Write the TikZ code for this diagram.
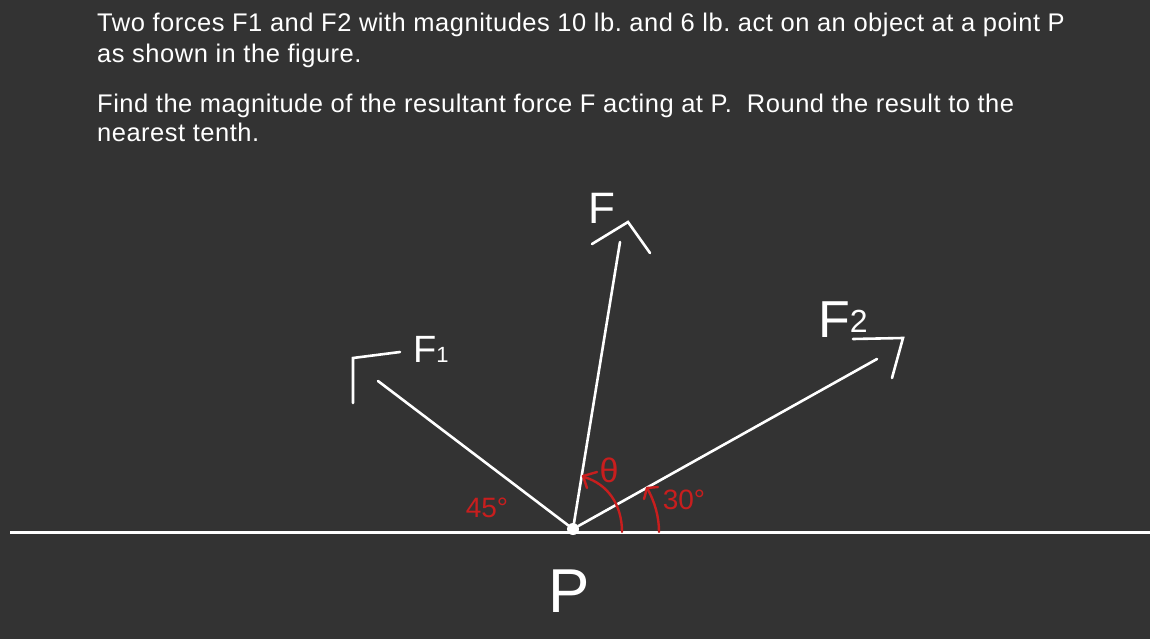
\documentclass[tikz,border=0pt]{standalone}
\usepackage{fontspec}
\setmainfont{Liberation Sans}
\newfontfamily\qfont[LetterSpace=2]{Liberation Sans}
\definecolor{bg}{HTML}{333333}
\definecolor{pen}{HTML}{C81E1E}
\tikzset{
  qtext/.style={anchor=base west, inner sep=0pt, text=white, font=\qfont\fontsize{25.5}{30}\selectfont},
  force/.style={draw=white, line width=2.6pt, line cap=round},
  ground/.style={draw=white, line width=3pt},
  headstroke/.style={draw=white, line width=2.6pt, line cap=round, line join=miter},
  redpen/.style={draw=pen, line width=2.4pt, line cap=round, line join=round},
  redlabel/.style={inner sep=0pt, text=pen},
  hand/.style={inner sep=0pt, text=white},
}
\frenchspacing
\begin{document}
\begin{tikzpicture}[x=1pt,y=-1pt]
\fill[bg] (0,0) rectangle (1150,639);
\useasboundingbox (0,0) rectangle (1150,639);

% question text
\node[qtext] (t1) at (97,32) {Two forces F1 and F2 with magnitudes 10 lb. and 6 lb. act on an object at a point P};
\node[qtext] (t2) at (97,63) {as shown in the figure.};
\node[qtext] (t3) at (97,113) {Find the magnitude of the resultant force F acting at P.\hspace{15pt}Round the result to the};
\node[qtext] (t4) at (97,142) {nearest tenth.};

% ground line
\coordinate (gl) at (10,532);
\coordinate (gr) at (1150,532);
\draw[ground] (gl) -- (gr);

% point P
\node[circle, fill=white, minimum size=12pt, inner sep=0pt] (P) at (573,529) {};

% force lines
\coordinate (f1end) at (378,381);
\coordinate (fend) at (620,242);
\coordinate (f2end) at (877,359);
\draw[force] (P) -- (f1end);
\draw[force] (P) -- (fend);
\draw[force] (P) -- (f2end);

% open arrowheads
\draw[headstroke] (353,403) -- (353,358) -- (400,352);
\draw[headstroke] (592,244) -- (628,222) -- (650,253);
\draw[headstroke] (853,339) -- (903,338) -- (892,378);

% angle marks
\draw[redpen] (622,532) .. controls (622,505) and (608,484) .. (584,477);
\draw[redpen] (597,472) -- (583,476) -- (587,488);
\draw[redpen] (659,532) .. controls (659,517) and (655,502) .. (647,488);
\draw[redpen] (658,487) -- (647,488) -- (644,499);

% labels
\node[redlabel, font=\fontsize{28}{28}\selectfont] (a45) at (487,508) {45°};
\node[redlabel, font=\fontsize{28}{28}\selectfont] (a30) at (684,500) {30°};
\node[redlabel, font=\fontsize{34}{34}\selectfont] (th) at (609,470) {θ};
\node[hand, font=\fontsize{44}{44}\selectfont] (Flab) at (602,208) {F};
\node[hand, anchor=base west, font=\fontsize{38}{38}\selectfont] (F1lab) at (413,362) {F{\fontsize{22}{22}\selectfont 1}};
\node[hand, anchor=base west, font=\fontsize{52}{52}\selectfont] (F2lab) at (818,337) {F\raisebox{5pt}{\fontsize{32}{32}\selectfont 2}};
\node[hand, font=\fontsize{62}{62}\selectfont] (Plab) at (569,591) {P};
\end{tikzpicture}
\end{document}
